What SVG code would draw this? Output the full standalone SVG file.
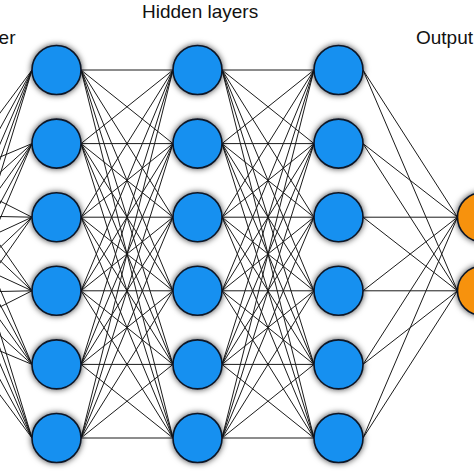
<svg xmlns="http://www.w3.org/2000/svg" width="474" height="474" viewBox="0 0 474 474">
<defs>
<style>
.c{stroke:#1a1a1a;stroke-width:1;fill:none}
.n circle{stroke:#0b1626;stroke-width:1.6}
.h circle{fill:#1590f0}
.o circle{fill:#f7920f}
.t{font-family:"Liberation Sans",Arial,sans-serif;font-size:19px;fill:#111}
</style>
<filter id="sh" x="-40%" y="-40%" width="180%" height="180%">
<feDropShadow dx="0" dy="0" stdDeviation="3" flood-color="#000" flood-opacity="0.75"/>
</filter>
</defs>
<rect width="474" height="474" fill="#fff"/>
<text class="t" x="15.5" y="43.5" text-anchor="end">er</text>
<text class="t" x="142" y="17.5">Hidden layers</text>
<text class="t" x="416" y="44">Output</text>
<g id="connectors">
<g id="in-h1">
<line class="c" x1="-47.6" y1="177" x2="32" y2="70"/><line class="c" x1="-47.6" y1="177" x2="32" y2="143.6"/><line class="c" x1="-47.6" y1="177" x2="32" y2="217.2"/><line class="c" x1="-47.6" y1="177" x2="32" y2="290.8"/><line class="c" x1="-47.6" y1="177" x2="32" y2="364.4"/><line class="c" x1="-47.6" y1="177" x2="32" y2="438"/>
<line class="c" x1="-47.6" y1="215.5" x2="32" y2="70"/><line class="c" x1="-47.6" y1="215.5" x2="32" y2="143.6"/><line class="c" x1="-47.6" y1="215.5" x2="32" y2="217.2"/><line class="c" x1="-47.6" y1="215.5" x2="32" y2="290.8"/><line class="c" x1="-47.6" y1="215.5" x2="32" y2="364.4"/><line class="c" x1="-47.6" y1="215.5" x2="32" y2="438"/>
<line class="c" x1="-47.6" y1="254" x2="32" y2="70"/><line class="c" x1="-47.6" y1="254" x2="32" y2="143.6"/><line class="c" x1="-47.6" y1="254" x2="32" y2="217.2"/><line class="c" x1="-47.6" y1="254" x2="32" y2="290.8"/><line class="c" x1="-47.6" y1="254" x2="32" y2="364.4"/><line class="c" x1="-47.6" y1="254" x2="32" y2="438"/>
<line class="c" x1="-47.6" y1="292.5" x2="32" y2="70"/><line class="c" x1="-47.6" y1="292.5" x2="32" y2="143.6"/><line class="c" x1="-47.6" y1="292.5" x2="32" y2="217.2"/><line class="c" x1="-47.6" y1="292.5" x2="32" y2="290.8"/><line class="c" x1="-47.6" y1="292.5" x2="32" y2="364.4"/><line class="c" x1="-47.6" y1="292.5" x2="32" y2="438"/>
<line class="c" x1="-47.6" y1="331" x2="32" y2="70"/><line class="c" x1="-47.6" y1="331" x2="32" y2="143.6"/><line class="c" x1="-47.6" y1="331" x2="32" y2="217.2"/><line class="c" x1="-47.6" y1="331" x2="32" y2="290.8"/><line class="c" x1="-47.6" y1="331" x2="32" y2="364.4"/><line class="c" x1="-47.6" y1="331" x2="32" y2="438"/>
</g>
<g id="h1-h2">
<line class="c" x1="81" y1="70" x2="173" y2="70"/><line class="c" x1="81" y1="70" x2="173" y2="143.6"/><line class="c" x1="81" y1="70" x2="173" y2="217.2"/><line class="c" x1="81" y1="70" x2="173" y2="290.8"/><line class="c" x1="81" y1="70" x2="173" y2="364.4"/><line class="c" x1="81" y1="70" x2="173" y2="438"/>
<line class="c" x1="81" y1="143.6" x2="173" y2="70"/><line class="c" x1="81" y1="143.6" x2="173" y2="143.6"/><line class="c" x1="81" y1="143.6" x2="173" y2="217.2"/><line class="c" x1="81" y1="143.6" x2="173" y2="290.8"/><line class="c" x1="81" y1="143.6" x2="173" y2="364.4"/><line class="c" x1="81" y1="143.6" x2="173" y2="438"/>
<line class="c" x1="81" y1="217.2" x2="173" y2="70"/><line class="c" x1="81" y1="217.2" x2="173" y2="143.6"/><line class="c" x1="81" y1="217.2" x2="173" y2="217.2"/><line class="c" x1="81" y1="217.2" x2="173" y2="290.8"/><line class="c" x1="81" y1="217.2" x2="173" y2="364.4"/><line class="c" x1="81" y1="217.2" x2="173" y2="438"/>
<line class="c" x1="81" y1="290.8" x2="173" y2="70"/><line class="c" x1="81" y1="290.8" x2="173" y2="143.6"/><line class="c" x1="81" y1="290.8" x2="173" y2="217.2"/><line class="c" x1="81" y1="290.8" x2="173" y2="290.8"/><line class="c" x1="81" y1="290.8" x2="173" y2="364.4"/><line class="c" x1="81" y1="290.8" x2="173" y2="438"/>
<line class="c" x1="81" y1="364.4" x2="173" y2="70"/><line class="c" x1="81" y1="364.4" x2="173" y2="143.6"/><line class="c" x1="81" y1="364.4" x2="173" y2="217.2"/><line class="c" x1="81" y1="364.4" x2="173" y2="290.8"/><line class="c" x1="81" y1="364.4" x2="173" y2="364.4"/><line class="c" x1="81" y1="364.4" x2="173" y2="438"/>
<line class="c" x1="81" y1="438" x2="173" y2="70"/><line class="c" x1="81" y1="438" x2="173" y2="143.6"/><line class="c" x1="81" y1="438" x2="173" y2="217.2"/><line class="c" x1="81" y1="438" x2="173" y2="290.8"/><line class="c" x1="81" y1="438" x2="173" y2="364.4"/><line class="c" x1="81" y1="438" x2="173" y2="438"/>
</g>
<g id="h2-h3">
<line class="c" x1="222" y1="70" x2="314" y2="70"/><line class="c" x1="222" y1="70" x2="314" y2="143.6"/><line class="c" x1="222" y1="70" x2="314" y2="217.2"/><line class="c" x1="222" y1="70" x2="314" y2="290.8"/><line class="c" x1="222" y1="70" x2="314" y2="364.4"/><line class="c" x1="222" y1="70" x2="314" y2="438"/>
<line class="c" x1="222" y1="143.6" x2="314" y2="70"/><line class="c" x1="222" y1="143.6" x2="314" y2="143.6"/><line class="c" x1="222" y1="143.6" x2="314" y2="217.2"/><line class="c" x1="222" y1="143.6" x2="314" y2="290.8"/><line class="c" x1="222" y1="143.6" x2="314" y2="364.4"/><line class="c" x1="222" y1="143.6" x2="314" y2="438"/>
<line class="c" x1="222" y1="217.2" x2="314" y2="70"/><line class="c" x1="222" y1="217.2" x2="314" y2="143.6"/><line class="c" x1="222" y1="217.2" x2="314" y2="217.2"/><line class="c" x1="222" y1="217.2" x2="314" y2="290.8"/><line class="c" x1="222" y1="217.2" x2="314" y2="364.4"/><line class="c" x1="222" y1="217.2" x2="314" y2="438"/>
<line class="c" x1="222" y1="290.8" x2="314" y2="70"/><line class="c" x1="222" y1="290.8" x2="314" y2="143.6"/><line class="c" x1="222" y1="290.8" x2="314" y2="217.2"/><line class="c" x1="222" y1="290.8" x2="314" y2="290.8"/><line class="c" x1="222" y1="290.8" x2="314" y2="364.4"/><line class="c" x1="222" y1="290.8" x2="314" y2="438"/>
<line class="c" x1="222" y1="364.4" x2="314" y2="70"/><line class="c" x1="222" y1="364.4" x2="314" y2="143.6"/><line class="c" x1="222" y1="364.4" x2="314" y2="217.2"/><line class="c" x1="222" y1="364.4" x2="314" y2="290.8"/><line class="c" x1="222" y1="364.4" x2="314" y2="364.4"/><line class="c" x1="222" y1="364.4" x2="314" y2="438"/>
<line class="c" x1="222" y1="438" x2="314" y2="70"/><line class="c" x1="222" y1="438" x2="314" y2="143.6"/><line class="c" x1="222" y1="438" x2="314" y2="217.2"/><line class="c" x1="222" y1="438" x2="314" y2="290.8"/><line class="c" x1="222" y1="438" x2="314" y2="364.4"/><line class="c" x1="222" y1="438" x2="314" y2="438"/>
</g>
<g id="h3-out">
<line class="c" x1="363" y1="70" x2="457.5" y2="217.2"/><line class="c" x1="363" y1="70" x2="457.5" y2="290.8"/>
<line class="c" x1="363" y1="143.6" x2="457.5" y2="217.2"/><line class="c" x1="363" y1="143.6" x2="457.5" y2="290.8"/>
<line class="c" x1="363" y1="217.2" x2="457.5" y2="217.2"/><line class="c" x1="363" y1="217.2" x2="457.5" y2="290.8"/>
<line class="c" x1="363" y1="290.8" x2="457.5" y2="217.2"/><line class="c" x1="363" y1="290.8" x2="457.5" y2="290.8"/>
<line class="c" x1="363" y1="364.4" x2="457.5" y2="217.2"/><line class="c" x1="363" y1="364.4" x2="457.5" y2="290.8"/>
<line class="c" x1="363" y1="438" x2="457.5" y2="217.2"/><line class="c" x1="363" y1="438" x2="457.5" y2="290.8"/>
</g>
</g>
<g id="hidden1" class="n h" filter="url(#sh)">
<g id="h1n1"><circle cx="56.5" cy="70" r="24.5"/></g>
<g id="h1n2"><circle cx="56.5" cy="143.6" r="24.5"/></g>
<g id="h1n3"><circle cx="56.5" cy="217.2" r="24.5"/></g>
<g id="h1n4"><circle cx="56.5" cy="290.8" r="24.5"/></g>
<g id="h1n5"><circle cx="56.5" cy="364.4" r="24.5"/></g>
<g id="h1n6"><circle cx="56.5" cy="438" r="24.5"/></g>
</g>
<g id="hidden2" class="n h" filter="url(#sh)">
<g id="h2n1"><circle cx="197.5" cy="70" r="24.5"/></g>
<g id="h2n2"><circle cx="197.5" cy="143.6" r="24.5"/></g>
<g id="h2n3"><circle cx="197.5" cy="217.2" r="24.5"/></g>
<g id="h2n4"><circle cx="197.5" cy="290.8" r="24.5"/></g>
<g id="h2n5"><circle cx="197.5" cy="364.4" r="24.5"/></g>
<g id="h2n6"><circle cx="197.5" cy="438" r="24.5"/></g>
</g>
<g id="hidden3" class="n h" filter="url(#sh)">
<g id="h3n1"><circle cx="338.5" cy="70" r="24.5"/></g>
<g id="h3n2"><circle cx="338.5" cy="143.6" r="24.5"/></g>
<g id="h3n3"><circle cx="338.5" cy="217.2" r="24.5"/></g>
<g id="h3n4"><circle cx="338.5" cy="290.8" r="24.5"/></g>
<g id="h3n5"><circle cx="338.5" cy="364.4" r="24.5"/></g>
<g id="h3n6"><circle cx="338.5" cy="438" r="24.5"/></g>
</g>
<g id="output" class="n o" filter="url(#sh)">
<g id="out1"><circle cx="482" cy="217.2" r="24.5"/></g>
<g id="out2"><circle cx="482" cy="290.8" r="24.5"/></g>
</g>
</svg>
